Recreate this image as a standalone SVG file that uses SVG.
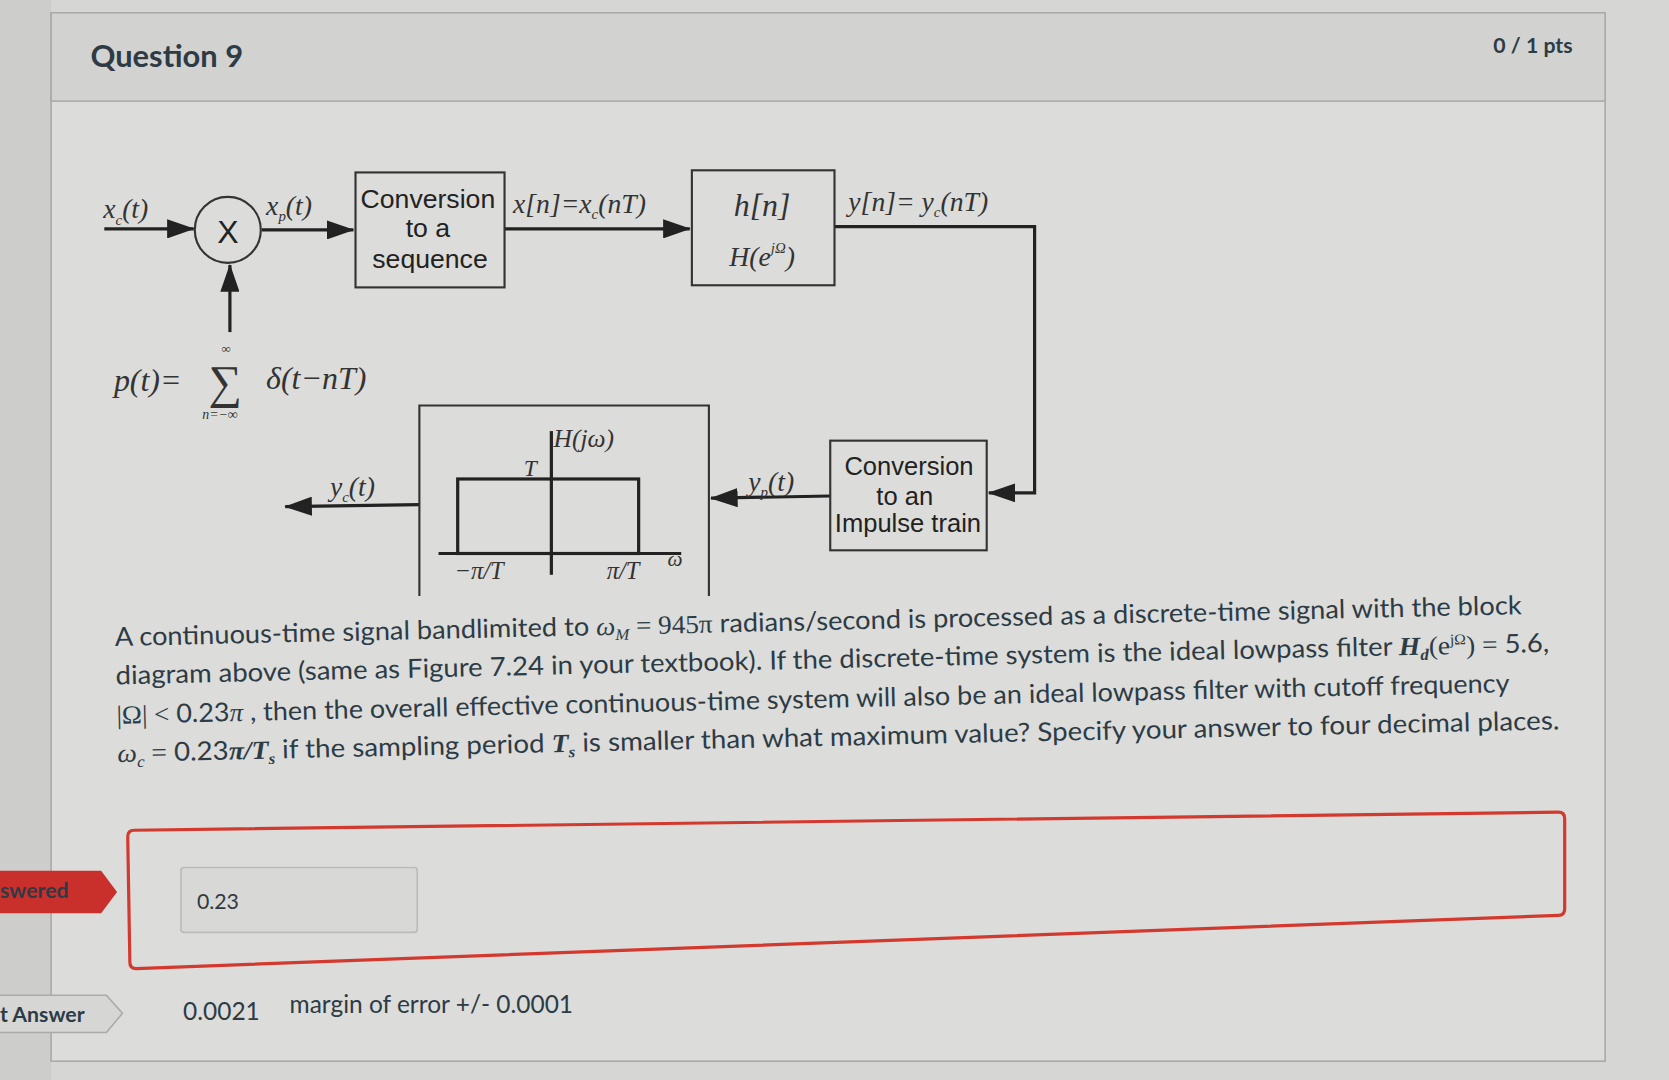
<svg xmlns="http://www.w3.org/2000/svg" width="1669" height="1080" viewBox="0 0 1669 1080">
<defs>
<marker id="ahb" markerWidth="26" markerHeight="18" refX="25" refY="9" orient="auto" markerUnits="userSpaceOnUse" viewBox="0 0 26 18"><path d="M0,0 L26,9 L0,18 z" fill="#222"/></marker>
</defs>
<style>
.s{font-family:"Liberation Sans",Arial,sans-serif;fill:#222}
.m{font-family:"Liberation Serif","Times New Roman",serif;font-style:italic;fill:#333}
.l{font-family:Lato,"Liberation Sans",sans-serif;fill:#2d3b45}
.bx{fill:none;stroke:#333;stroke-width:2}
.ln{fill:none;stroke:#222;stroke-width:3}
</style>
<g transform="scale(1.06441)">
<rect x="0" y="0" width="1568" height="1015" fill="#d6d6d4"/>
<rect x="0" y="0" width="48" height="1015" fill="#cdcdcb"/>
<rect x="48" y="12" width="1460" height="985" fill="#dcdcda" stroke="#aaa" stroke-width="1.5"/>
<rect x="48" y="12" width="1460" height="83" fill="#d2d2d0" stroke="#aaa" stroke-width="1.5"/>
<text class="l" x="85" y="63" font-size="29" font-weight="bold">Question 9</text>
<text class="l" x="1403" y="50" font-size="20" font-weight="bold" fill="#555">0 / 1 pts</text>

<g id="conn">
<line class="ln" x1="98" y1="215" x2="182" y2="215" marker-end="url(#ahb)"/>
<line class="ln" x1="246" y1="216" x2="332" y2="216" marker-end="url(#ahb)"/>
<line class="ln" x1="216" y1="312" x2="216" y2="249" marker-end="url(#ahb)"/>
<line class="ln" x1="474" y1="215" x2="648" y2="215" marker-end="url(#ahb)"/>
<polyline class="ln" points="784,213 972,213 972,463 929,463" marker-end="url(#ahb)"/>
<line class="ln" x1="780" y1="466" x2="668" y2="468" marker-end="url(#ahb)"/>
<line class="ln" x1="394" y1="474" x2="268" y2="476" marker-end="url(#ahb)"/>
</g>

<g id="mult"><circle cx="214" cy="216" r="31" fill="none" stroke="#333" stroke-width="2"/><text class="s" x="214" y="228" font-size="30" text-anchor="middle">X</text></g>
<text class="m" x="97" y="205" font-size="26">x<tspan font-size="14" dy="6">c</tspan><tspan dy="-6">(t)</tspan></text>
<text class="m" x="250" y="202" font-size="26">x<tspan font-size="14" dy="6">p</tspan><tspan dy="-6">(t)</tspan></text>
<text class="m" x="482" y="200" font-size="26" font-style="normal">x[<tspan font-style="italic">n</tspan>]=x<tspan font-size="14" dy="6">c</tspan><tspan dy="-6">(<tspan font-style="italic">nT</tspan>)</tspan></text>
<text class="m" x="797" y="198" font-size="26" font-style="normal"><tspan font-style="italic">y</tspan>[<tspan font-style="italic">n</tspan>]= <tspan font-style="italic">y</tspan><tspan font-size="14" dy="6">c</tspan><tspan dy="-6">(<tspan font-style="italic">nT</tspan>)</tspan></text>

<g id="conv1"><rect class="bx" x="334" y="162" width="140" height="108"/>
<text class="s" x="402" y="195" font-size="25" text-anchor="middle">Conversion</text>
<text class="s" x="402" y="223" font-size="25" text-anchor="middle">to a</text>
<text class="s" x="404" y="252" font-size="25" text-anchor="middle">sequence</text></g>

<g id="hn"><rect class="bx" x="650" y="160" width="134" height="108"/>
<text class="m" x="716" y="203" font-size="30" text-anchor="middle" font-style="normal"><tspan font-style="italic">h</tspan>[<tspan font-style="italic">n</tspan>]</text>
<text class="m" x="716" y="250" font-size="26" text-anchor="middle">H(e<tspan font-size="14" dy="-12">jΩ</tspan><tspan dy="12">)</tspan></text></g>

<g id="conv2"><rect class="bx" x="780" y="414" width="147" height="103"/>
<text class="s" x="854" y="446" font-size="24" text-anchor="middle">Conversion</text>
<text class="s" x="850" y="474" font-size="24" text-anchor="middle">to an</text>
<text class="s" x="853" y="500" font-size="24" text-anchor="middle">Impulse train</text></g>
<text class="m" x="703" y="461" font-size="26">y<tspan font-size="14" dy="6">p</tspan><tspan dy="-6">(t)</tspan></text>

<g id="filter"><path class="bx" d="M394,560 V381 H666 V560"/>
<rect x="430" y="450" width="170" height="70" fill="none" stroke="#222" stroke-width="3"/>
<line class="ln" x1="412" y1="520" x2="640" y2="520"/>
<line class="ln" x1="518" y1="405" x2="518" y2="540"/>
<text class="m" x="520" y="420" font-size="24">H(jω)</text>
<text class="m" x="492" y="447" font-size="22">T</text>
<text class="m" x="427" y="544" font-size="23">−π/T</text>
<text class="m" x="570" y="544" font-size="23">π/T</text>
<text class="m" x="627" y="532" font-size="20">ω</text></g>
<text class="m" x="310" y="466" font-size="26">y<tspan font-size="14" dy="6">c</tspan><tspan dy="-6">(t)</tspan></text>

<g id="pt"><text class="m" x="107" y="367" font-size="30">p(t)=</text>
<text class="m" x="196" y="374" font-size="44" font-style="normal">∑</text>
<text class="m" x="208" y="332" font-size="12">∞</text>
<text class="m" x="190" y="394" font-size="13">n=−∞</text>
<text class="m" x="250" y="365" font-size="30" font-style="normal">δ(<tspan font-style="italic">t−nT</tspan>)</text></g>

<g transform="rotate(-1.3 108 607)" font-size="24.5">
<text class="l" x="108" y="607" textLength="1322" lengthAdjust="spacingAndGlyphs">A continuous-time signal bandlimited to <tspan font-family="Liberation Serif" font-style="italic">ω<tspan font-size="15" dy="5">M</tspan><tspan dy="-5" font-style="normal"> = 945π</tspan></tspan> radians/second is processed as a discrete-time signal with the block</text>
<text class="l" x="108" y="643" textLength="1347" lengthAdjust="spacingAndGlyphs">diagram above (same as Figure 7.24 in your textbook).  If the discrete-time system is the ideal lowpass filter <tspan font-family="Liberation Serif" font-style="italic" font-weight="bold">H<tspan font-size="15" dy="5">d</tspan><tspan dy="-5" font-weight="normal" font-style="normal">(e<tspan font-size="14" dy="-9">jΩ</tspan><tspan dy="9">) = </tspan></tspan></tspan>5.6,</text>
<text class="l" x="108" y="680" textLength="1309" lengthAdjust="spacingAndGlyphs"><tspan font-family="Liberation Serif">|Ω| &lt;</tspan> 0.23<tspan font-family="Liberation Serif" font-style="italic">π</tspan> , then the overall effective continuous-time system will also be an ideal lowpass filter with cutoff frequency</text>
<text class="l" x="108" y="716" textLength="1355" lengthAdjust="spacingAndGlyphs"><tspan font-family="Liberation Serif" font-style="italic">ω<tspan font-size="15" dy="5">c</tspan><tspan dy="-5" font-style="normal"> = </tspan></tspan>0.23<tspan font-family="Liberation Serif" font-style="italic" font-weight="bold">π/T<tspan font-size="15" dy="5">s</tspan></tspan><tspan dy="-5">  if the sampling period </tspan><tspan font-family="Liberation Serif" font-style="italic" font-weight="bold">T<tspan font-size="15" dy="5">s</tspan></tspan><tspan dy="-5">  is smaller than what maximum value?  Specify your answer to four decimal places.</tspan></text>
</g>

<path d="M126,780 L1464,763 Q1470,763 1470,769 L1470,854 Q1470,860 1464,860 L128,910 Q122,910 122,904 L120,786 Q120,780 126,780 z" fill="none" stroke="#d33a2f" stroke-width="3"/>
<rect x="170" y="815" width="222" height="61" rx="3" fill="#d8d8d6" stroke="#bbb" stroke-width="1.5"/>
<text class="l" x="185" y="854" font-size="20">0.23</text>

<path d="M0,818 H95 L110,838 L95,858 H0 z" fill="#c9302c"/>
<text class="l" x="0" y="844" font-size="20" font-weight="bold" fill="#fff">swered</text>
<path d="M0,935 H100 L115,952 L100,970 H0" fill="#d6d6d4" stroke="#aaa" stroke-width="1.5"/>
<text class="l" x="0" y="960" font-size="20" font-weight="bold">t Answer</text>
<text class="l" x="172" y="958" font-size="23">0.0021</text>
<text class="l" x="272" y="952" font-size="23" fill="#555">margin of error +/- 0.0001</text>
</g>
</svg>
